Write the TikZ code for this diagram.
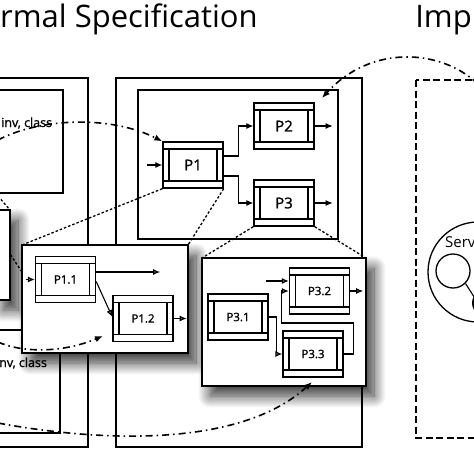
\documentclass[tikz,border=0pt]{standalone}
\usepackage{fontspec}
\setmainfont{Open Sans}[BoldFont={Open Sans}, BoldFeatures={FakeBold=1.3}]
\usetikzlibrary{arrows.meta,shadows.blur}
\tikzset{
    box/.style={draw, line width=1.5pt, rectangle, inner sep=0pt},
    proc/.style={draw, line width=1.4pt, rectangle, inner sep=0pt, fill=white,
        minimum width=60pt, minimum height=46pt, font=\fontsize{15}{15}\selectfont\bfseries,
        path picture={
            \draw[line width=1.4pt]
            ([yshift=-7pt]path picture bounding box.north west) -- ([yshift=-7pt]path picture bounding box.north east)
            ([yshift=7pt]path picture bounding box.south west) -- ([yshift=7pt]path picture bounding box.south east)
            ([xshift=6pt,yshift=-7pt]path picture bounding box.north west) -- ([xshift=6pt,yshift=7pt]path picture bounding box.south west)
            ([xshift=-6pt,yshift=-7pt]path picture bounding box.north east) -- ([xshift=-6pt,yshift=7pt]path picture bounding box.south east);
        }},
    sub/.style={proc, font=\fontsize{11.5}{11.5}\selectfont\bfseries},
    zoombox/.style={box, fill=white,
        blur shadow={shadow xshift=8pt, shadow yshift=-10pt, shadow blur radius=12pt, shadow opacity=80, shadow blur steps=16}},
    flow/.style={-{Latex[length=7pt,width=6pt]}, line width=1.1pt},
    link/.style={-{Latex[length=8pt,width=6.5pt]}, line width=1.6pt, dash pattern=on 7pt off 4pt on 1.5pt off 4pt},
    zoomline/.style={line width=1.3pt, dash pattern=on 2.5pt off 2pt},
    impl/.style={draw, line width=1.5pt, dash pattern=on 7pt off 3.5pt},
    note/.style={inner sep=0pt, font=\fontsize{12.5}{12.5}\selectfont\bfseries},
    heading/.style={inner sep=0pt, font=\fontsize{31}{31}\selectfont}
}
\begin{document}
\begin{tikzpicture}[x=1pt,y=-1pt]
\useasboundingbox (0,0) rectangle (474,474);
\clip (0,0) rectangle (474,474);

\node[heading, anchor=base west] at (0,27) (formal) {rmal Specification};
\node[heading, anchor=base east] at (472,27) (implt) {Imp};

\draw[box] (-5,78) rectangle (88,447);
\draw[box] (-5,90) rectangle (63,193);
\draw[box] (-5,330) rectangle (60,433);
\node[note, anchor=base west] at (1,127) (invA) {inv, class};
\node[note, anchor=base west] at (-1,367) (invB) {nv, class};

\draw[box] (116,78) rectangle (362,447);
\draw[box] (138,90) rectangle (338,239);

\node[proc] at (193,165) (p1) {P1};
\node[proc] at (284,126) (p2) {P2};
\node[proc] at (284,203) (p3) {P3};
\coordinate (p1in) at (147,165);
\draw[flow] (p1in) -- (p1.west);
\draw[flow] ([yshift=9pt]p1.east) -- ++(15,0) |- (p2.west);
\draw[flow] ([yshift=-11pt]p1.east) -- ++(15,0) |- (p3.west);
\draw[flow] (p2.east) -- ++(18,0);
\draw[flow] (p3.east) -- ++(18,0);

\draw[impl] (416,80) rectangle (490,438);
\node[circle, draw, line width=1.3pt, minimum size=100pt] at (478,272) (svc) {};
\node[circle, draw, line width=1.3pt, minimum size=34pt] at (453,271) (obj) {};
\node[inner sep=0pt, anchor=base west, font=\fontsize{15}{15}\selectfont] at (445,247) (svcname) {Serv};
\coordinate (blob) at (478,303);
\draw[line width=1.1pt] (obj.-45) -- (blob);
\fill (blob) ellipse (6 and 9);

\coordinate (implout) at (478,84);
\coordinate (boxin) at (322,98);
\draw[link] (implout) .. controls (440,48) and (370,45) .. (boxin);
\coordinate (invout) at (-2,140);
\draw[link] (invout) .. controls (40,118) and (110,115) .. (p1.north west);

\coordinate (za) at (-2,196);
\coordinate (zb) at (10,210);
\coordinate (zc) at (8,251);
\coordinate (zd) at (22,272);
\draw[zoomline] (za) -- (zb);
\draw[zoomline] (zc) -- (zd);
\draw[zoombox] (-5,210) rectangle (10,300);

\draw[zoomline] (p1.south west) -- (22,245);
\draw[zoomline] (p1.south east) -- (188,245);
\node[zoombox, minimum width=166pt, minimum height=108pt] at (105,299) (p1x) {};
\node[sub] at (65.5,279.5) (p11) {P1.1};
\node[sub] at (143,318.5) (p12) {P1.2};
\draw[flow] ([xshift=-9pt]p11.west) -- (p11.west);
\draw[flow] ([yshift=7.5pt]p11.east) -- ++(64,0);
\draw[flow] ([yshift=-2pt]p11.east) -- ([yshift=1.5pt]p12.west);
\draw[flow] (p12.east) -- ++(13,0);

\draw[zoomline] (p3.south west) -- (202,258);
\draw[zoomline] (p3.south east) -- (366,258);
\node[zoombox, minimum width=164pt, minimum height=128pt] at (284,322) (p3x) {};
\node[sub] at (238,317) (p31) {P3.1};
\node[sub] at (319.5,291) (p32) {P3.2};
\node[sub] at (313,354) (p33) {P3.3};
\draw[flow] ([xshift=-23pt,yshift=10pt]p32.west) -- ([yshift=10pt]p32.west);
\draw[flow] (p31.east) -- ++(8,0) |- (p33.west);
\draw[flow] (p33.east) -- ++(10,0) -- ++(0,-31) -- ++(-72,0) |- (p32.west);
\draw[flow] (p32.east) -- ++(13,0);

\coordinate (p1xin) at (-2,342);
\coordinate (p12in) at (103,336);
\draw[link] (p1xin) .. controls (20,352) and (60,354) .. (p12in);
\coordinate (invBout) at (-2,423);
\coordinate (p3xin) at (312,382);
\draw[link] (invBout) .. controls (100,442) and (240,448) .. (p3xin);
\end{tikzpicture}
\end{document}
